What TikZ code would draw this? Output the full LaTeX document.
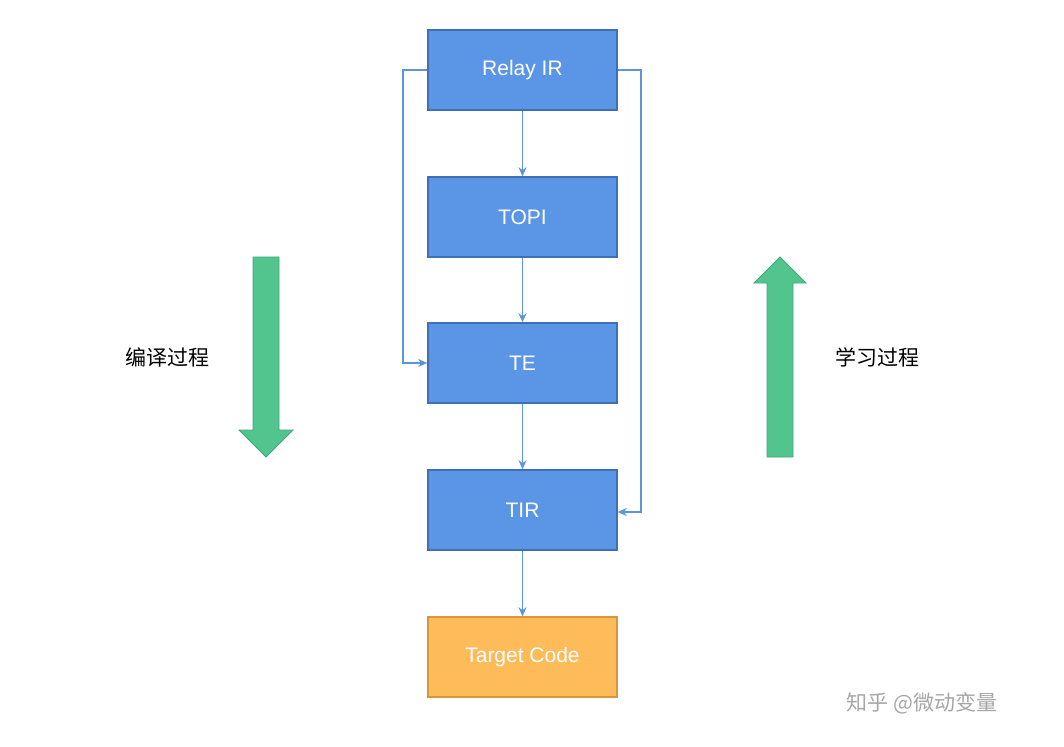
\documentclass[tikz,border=0pt]{standalone}
\usepackage{fontspec}
\setmainfont{Liberation Sans}
\newfontfamily\cjk{Noto Sans CJK SC}
\usetikzlibrary{arrows.meta}
\definecolor{boxblue}{HTML}{5B95E5}
\definecolor{boxedge}{HTML}{3F6FB5}
\definecolor{boxorange}{HTML}{FDBB5A}
\definecolor{orangeedge}{HTML}{D8963A}
\definecolor{linkblue}{HTML}{5B95DB}
\definecolor{arrgreen}{HTML}{52C58F}
\definecolor{arredge}{HTML}{3FA878}
\begin{document}
\begin{tikzpicture}[x=1pt,y=-1pt,
  box/.style={draw=boxedge,line width=1.5pt,fill=boxblue,minimum width=189pt,minimum height=80pt,text=white,font=\fontsize{21}{24}\selectfont,inner sep=0pt},
  link/.style={draw=linkblue,line width=1.8pt,-{Stealth[length=9pt,width=8pt]}},
  garrow/.style={fill=arrgreen,draw=arredge,line width=0.8pt},
  cn/.style={font=\cjk\fontsize{21}{24}\selectfont}]
\useasboundingbox (0,0) rectangle (1064,746);
\node[box] (relay) at (522.5,70) {Relay IR};
\node[box] (topi) at (522.5,217) {TOPI};
\node[box] (te) at (522.5,363) {TE};
\node[box] (tir) at (522.5,510) {TIR};
\node[box,fill=boxorange,draw=orangeedge] (tc) at (522.5,657) {Target Code};
\draw[link] (relay) -- (topi);
\draw[link] (topi) -- (te);
\draw[link] (te) -- (tir);
\draw[link] (tir) -- (tc);
\draw[link] (relay.west) -- (403,70) -- (403,363) -- (te.west);
\draw[link] (relay.east) -- (641,70) -- (641,512) -- (tir.east|-0,512);
\draw[garrow] (253,257) -- (279,257) -- (279,430) -- (293,430) -- (266,457) -- (239,430) -- (253,430) -- cycle;
\draw[garrow] (767,457) -- (793,457) -- (793,283) -- (806,283) -- (780,257) -- (754,283) -- (767,283) -- cycle;
\node[cn] (l1) at (167,357) {编译过程};
\node[cn] (l2) at (877,357) {学习过程};
\node[cn,text=gray!70] (wm) at (922,703) {知乎 @微动变量};
\end{tikzpicture}
\end{document}
